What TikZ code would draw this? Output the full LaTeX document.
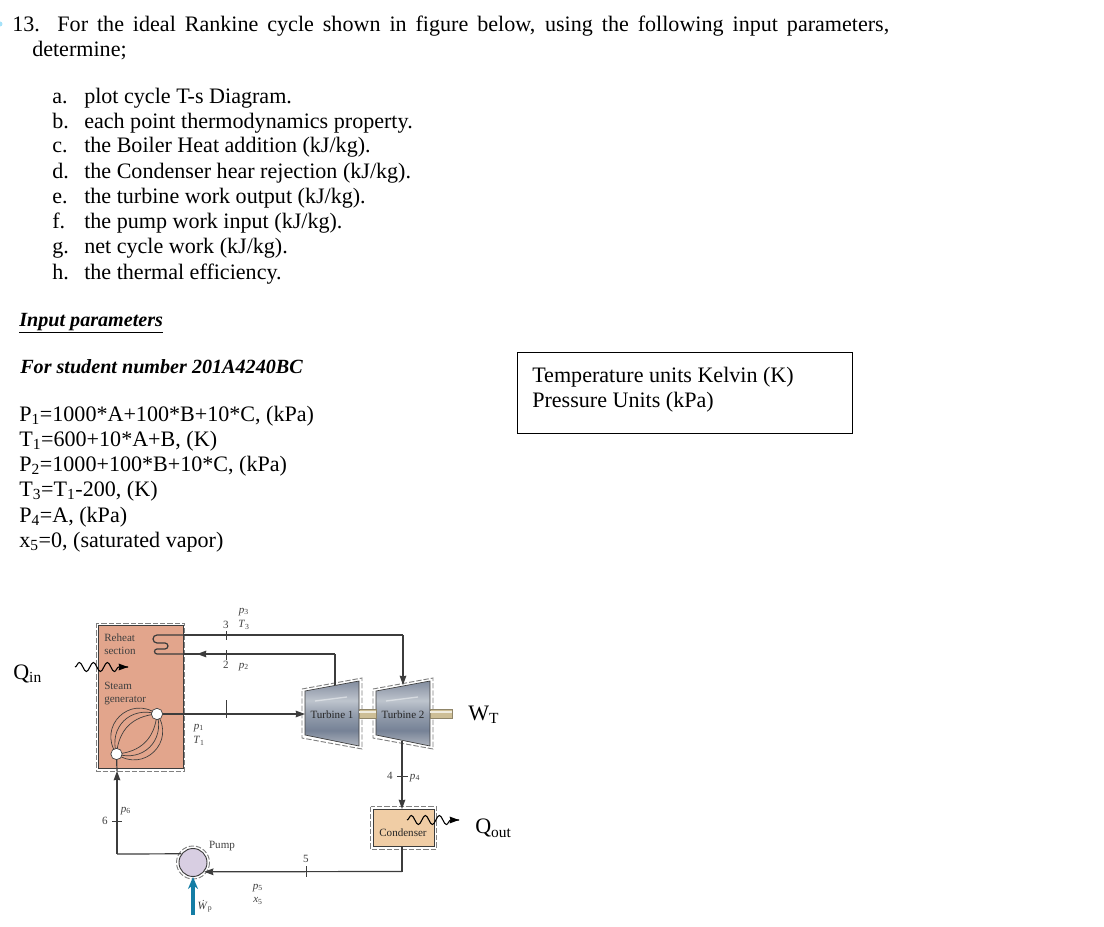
\documentclass[tikz,border=0pt]{standalone}
\usepackage{fontspec}
\setmainfont{Liberation Serif}
\usetikzlibrary{arrows.meta, decorations.pathmorphing}
\newcommand{\BODYSIZE}{\fontsize{16.56}{20}\selectfont}
\newcommand{\HEADSIZE}{\fontsize{15.1}{18}\selectfont}
\newcommand{\PLANTSIZE}{\fontsize{8.3}{10}\selectfont}
\newcommand{\idx}[1]{\textsubscript{#1}}
\newcommand{\statevar}[2]{\textit{#1}\textsubscript{#2}}
\definecolor{boilerfill}{RGB}{226,165,140}
\definecolor{condfill}{RGB}{240,205,165}
\definecolor{pumpfill}{RGB}{216,206,226}
\definecolor{shaftfill}{RGB}{205,190,150}
\definecolor{plantline}{RGB}{60,60,60}
\definecolor{workblue}{RGB}{20,125,165}
\definecolor{turbA}{RGB}{175,180,190}
\definecolor{turbB}{RGB}{118,130,150}
\definecolor{turbC}{RGB}{150,160,175}
\definecolor{turbD}{RGB}{190,196,205}
\definecolor{turbE}{RGB}{130,140,158}
\pgfdeclareverticalshading{turbineshade}{100bp}{
    color(0bp)=(turbA); color(25bp)=(turbA); color(37bp)=(turbB);
    color(50bp)=(turbC); color(60bp)=(turbD); color(75bp)=(turbE);
    color(100bp)=(turbE)}
\tikzset{
    body/.style={anchor=base west, inner sep=0pt, yshift=-1.1pt, font=\BODYSIZE},
    plantlabel/.style={inner sep=0pt, text=black!75, font=\PLANTSIZE},
    pipe/.style={plantline, line width=0.9pt},
    outline/.style={gray, line width=0.7pt, dash pattern=on 4pt off 1.5pt},
    heatwave/.style={line width=0.8pt, decorate, decoration={snake, segment length=10.5pt, amplitude=3.4pt, post length=6pt}},
    tickmark/.style={plantline, line width=0.5pt},
    >={Stealth[length=7pt, width=5pt, inset=0.6pt]}
}

\begin{document}
\begin{tikzpicture}[x=0.75pt, y=-0.75pt]
    \useasboundingbox (0, 0) rectangle (1104, 927);

    % question text
    \fill[cyan!35] (0, 24) circle (2.5);
    \node[body] (question) at (12, 30) {\makebox[657.75pt][s]{13. For the ideal Rankine cycle shown in figure below, using the following input parameters,}};
    \node[body] (determine) at (32, 55) {determine;};

    \foreach \tag/\body/\ypos in {
            a./plot cycle T-s Diagram./102,
            b./each point thermodynamics property./127,
            c./{the Boiler Heat addition (kJ/kg).}/151,
            d./{the Condenser hear rejection (kJ/kg).}/177,
            e./{the turbine work output (kJ/kg).}/202,
            f./{the pump work input (kJ/kg).}/227,
            g./{net cycle work (kJ/kg).}/252,
            h./the thermal efficiency./278
        } {
            \node[body] (tag\ypos) at (52, \ypos) {\tag};
            \node[body] (item\ypos) at (84, \ypos) {\body};
        }

    \node[body, font=\HEADSIZE] (inputhead) at (19, 325) {\underline{\textbf{\textit{Input parameters}}}};
    \node[body, font=\HEADSIZE] (student) at (20, 372) {\textbf{\textit{For student number 201A4240BC}}};

    % parameter list
    \foreach \body/\ypos in {
            {P\idx{1}=1000*A+100*B+10*C, (kPa)}/420,
            {T\idx{1}=600+10*A+B, (K)}/445,
            {P\idx{2}=1000+100*B+10*C, (kPa)}/470,
            {T\idx{3}=T\idx{1}-200, (K)}/495,
            {P\idx{4}=A, (kPa)}/521,
            {x\idx{5}=0, (saturated vapor)}/546
        } {
            \node[body] (param\ypos) at (19, \ypos) {\body};
        }

    % units box
    \draw[line width=0.6pt] (517, 352.5) rectangle (852, 433);
    \node[body] (tempunits) at (532, 381) {Temperature units Kelvin (K)};
    \node[body] (pressunits) at (532, 406) {Pressure Units (kPa)};

    % steam generator
    \draw[fill=boilerfill, draw=plantline, line width=0.7pt] (98, 625) rectangle (183, 768);
    \draw[outline] (96.5, 623) rectangle (184.5, 771);
    \node[plantlabel, anchor=base west] (reheat) at (104, 641) {Reheat};
    \node[plantlabel, anchor=base west] (section) at (104, 654) {section};
    \node[plantlabel, anchor=base west] (steam) at (104, 689) {Steam};
    \node[plantlabel, anchor=base west] (generator) at (104, 702) {generator};

    % drum tubes
    \coordinate (drumtop) at (157, 714);
    \coordinate (drumlow) at (116.5, 754);
    \foreach \bend/\loose in {80/1.5, 62/1.25, 40/1.1} {
            \draw[plantline, line width=0.5pt] (drumlow) to[bend left=\bend, looseness=\loose] (drumtop);
            \draw[plantline, line width=0.5pt] (drumlow) to[bend right=\bend, looseness=\loose] (drumtop);
        }
    \node[circle, fill=white, draw=plantline, line width=0.5pt, minimum size=8.5pt, inner sep=0pt] (drumA) at (drumtop) {};
    \node[circle, fill=white, draw=plantline, line width=0.5pt, minimum size=8.5pt, inner sep=0pt] (drumB) at (drumlow) {};

    % turbines
    \foreach \xleft/\num in {305/1, 376/2} {
            \pgfmathsetmacro{\xright}{\xleft + 54}
            \draw[outline] (\xleft - 3, 689) -- (\xright + 3, 678) -- (\xright + 3, 749) -- (\xleft - 3, 738) -- cycle;
            \path[shading=turbineshade, draw=plantline, line width=0.5pt] (\xleft, 691) -- (\xright, 681) -- (\xright, 746) -- (\xleft, 735) -- cycle;
            \draw[white, opacity=0.45, line width=1pt] (\xleft + 10, 701) -- (\xleft + 42, 697);
            \node[plantlabel, text=black!85] (turbine\num) at (\xleft + 27, 714.5) {Turbine \num};
        }
    \coordinate (turbine1left) at (305, 714);
    \coordinate (turbine1top) at (335, 685);
    \coordinate (turbine2top) at (403, 685);
    \coordinate (turbine2low) at (402, 741);

    % shaft
    \foreach \xone/\xtwo in {359/376, 430/452} {
            \draw[fill=shaftfill, draw=shaftfill!70!black, line width=0.3pt] (\xone, 709) rectangle (\xtwo, 718);
            \draw[white!70!shaftfill, line width=1pt] (\xone, 712) -- (\xtwo, 712);
        }

    % condenser
    \draw[fill=condfill, draw=plantline, line width=0.7pt] (373, 809) rectangle (434, 846);
    \draw[outline] (370.5, 806.5) rectangle (436.5, 849);
    \node[plantlabel, text=black!85] (condenser) at (403, 833) {Condenser};

    % pump
    \node[circle, fill=pumpfill, draw=plantline, line width=0.7pt, minimum size=21pt, inner sep=0pt] (pump) at (193, 862.5) {};
    \draw[outline] (pump.center) circle (16.5);
    \node[plantlabel] (pumplabel) at (222, 846) {Pump};

    % pipe junctions
    \coordinate (coilin) at (183, 654);
    \coordinate (coilout) at (183, 635);
    \coordinate (cornerA) at (335, 654);
    \coordinate (cornerB) at (403, 635);
    \coordinate (cornerC) at (402, 871.5);
    \coordinate (cornerD) at (117, 854);
    \coordinate (boilerin) at (117, 771);

    % reheat coil
    \draw[pipe] (coilout) -- (157, 635) arc[start angle=270, end angle=90, radius=4] -- (165, 643) arc[start angle=-90, end angle=90, radius=3] -- (157, 649) arc[start angle=270, end angle=90, radius=2.5] -- (coilin);

    % pipes
    \draw[pipe] (coilout) -- (cornerB);
    \draw[pipe, ->] (cornerB) -- (turbine2top);
    \draw[pipe] (cornerA) -- (turbine1top);
    \draw[pipe] (cornerA) -- (coilin);
    \draw[pipe, ->] (230, 654) -- (197, 654);
    \draw[pipe, ->] (drumA) -- (turbine1left);
    \draw[pipe] (turbine2low) -- (402, 776);
    \draw[pipe, ->] (402, 776) -- (402, 809);
    \draw[pipe] (402, 846) -- (cornerC);
    \draw[pipe, ->] (cornerC) -- (pump.-40);
    \draw[pipe] (pump.143) -- (cornerD);
    \draw[pipe, ->] (cornerD) -- (boilerin);
    \draw[pipe] (boilerin) -- (drumB);

    % ticks
    \foreach \xone/\yone/\xtwo/\ytwo in {
            226/631/226/640,
            226/650/226/660,
            226/700/226/718,
            397/776/408/776,
            112/821/122/821,
            306/866/306/877
        } {
            \draw[tickmark] (\xone, \yone) -- (\xtwo, \ytwo);
        }

    % state labels
    \node[plantlabel] (numthree) at (226, 625) {3};
    \node[plantlabel] (numtwo) at (226, 665) {2};
    \node[plantlabel] (numfour) at (390, 776) {4};
    \node[plantlabel] (numfive) at (306, 859) {5};
    \node[plantlabel] (numsix) at (105, 821) {6};
    \node[plantlabel] (pthree) at (244, 612) {\statevar{p}{3}};
    \node[plantlabel] (tthree) at (244, 625) {\statevar{T}{3}};
    \node[plantlabel] (ptwo) at (244, 667) {\statevar{p}{2}};
    \node[plantlabel] (pone) at (199, 728) {\statevar{p}{1}};
    \node[plantlabel] (tone) at (199, 741) {\statevar{T}{1}};
    \node[plantlabel] (pfour) at (415, 778) {\statevar{p}{4}};
    \node[plantlabel] (pfive) at (258, 888) {\statevar{p}{5}};
    \node[plantlabel] (xfive) at (258, 901) {\statevar{x}{5}};
    \node[plantlabel] (psix) at (126, 811) {\statevar{p}{6}};
    \node[plantlabel] (wdot) at (205, 906) {\statevar{\.{W}}{p}};

    % heat and work arrows
    \coordinate (qinstart) at (75, 667);
    \coordinate (qinend) at (128, 667);
    \coordinate (qoutstart) at (407, 820);
    \coordinate (qoutend) at (459, 820);
    \coordinate (pumpdrive) at (193, 915);
    \draw[heatwave] (qinstart) -- (qinend);
    \draw[->, line width=0.8pt] (120, 667) -- (qinend);
    \draw[heatwave] (qoutstart) -- (qoutend);
    \draw[->, line width=0.8pt] (451, 820) -- (qoutend);
    \draw[workblue, line width=2.4pt, -{Stealth[length=9pt, width=7.5pt]}] (pumpdrive) -- (pump.south);

    % outer labels
    \node[body] (qin) at (13, 678) {Q\textsubscript{in}};
    \node[body] (wturbine) at (468, 719) {W\textsubscript{T}};
    \node[body] (qout) at (475, 832.5) {Q\textsubscript{out}};
\end{tikzpicture}
\end{document}
